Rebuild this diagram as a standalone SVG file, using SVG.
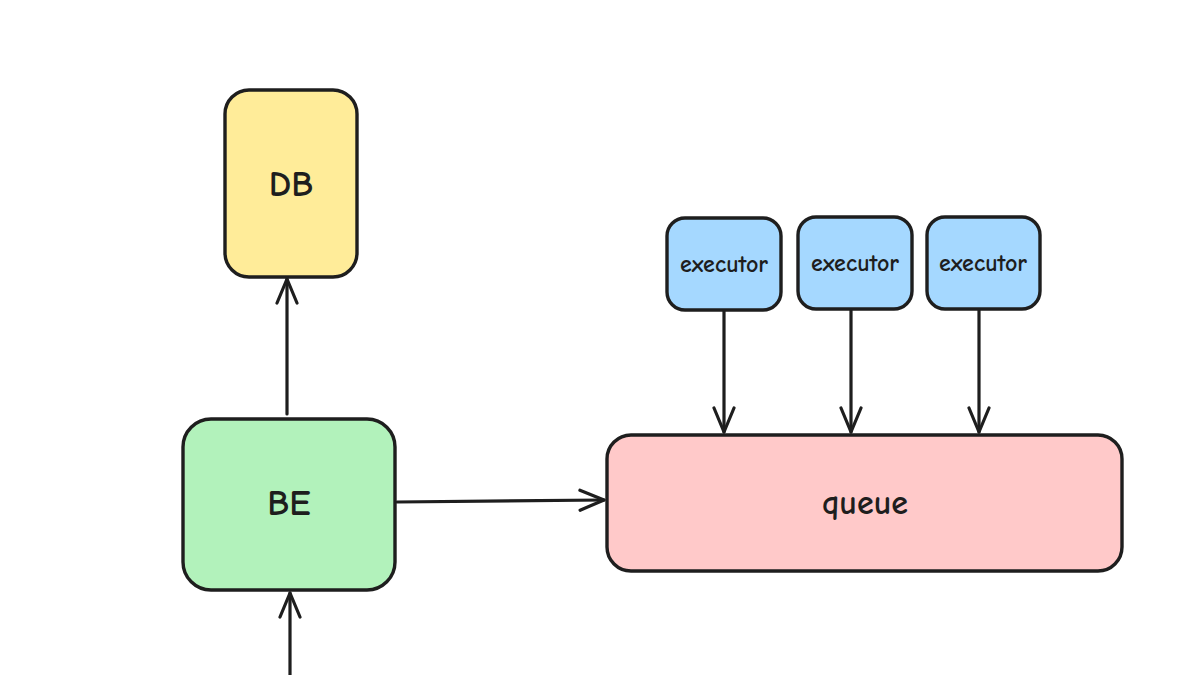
<svg xmlns="http://www.w3.org/2000/svg" width="1200" height="675" viewBox="0 0 1200 675">
<defs>
<marker id="ah" markerUnits="userSpaceOnUse" markerWidth="32" markerHeight="28" refX="26" refY="12" orient="auto" viewBox="0 0 32 24">
<path d="M2,2 L26,12 L2,22" fill="none" stroke="#1e1e1e" stroke-width="3.2" stroke-linecap="round" stroke-linejoin="round"/>
</marker>
</defs>
<style>
.box{stroke:#1e1e1e;stroke-width:3.4}
.lbl{font-family:"Comic Neue","Liberation Sans","DejaVu Sans",sans-serif;font-weight:bold;fill:#1e1e1e;text-anchor:middle;dominant-baseline:central}
.conn{stroke:#1e1e1e;stroke-width:3.2;fill:none;stroke-linecap:round;marker-end:url(#ah)}
</style>
<rect width="1200" height="675" fill="#ffffff"/>
<g id="connectors">
<path class="conn" d="M287,414 L287,279"/>
<path class="conn" d="M290,675 L290,593"/>
<path class="conn" d="M397,502 L604,500"/>
<path class="conn" d="M724,311 L724,432"/>
<path class="conn" d="M851,310 L851,432"/>
<path class="conn" d="M979,310 L979,432"/>
</g>
<g id="db">
<rect class="box" x="225" y="90" width="132" height="187" rx="24" fill="#ffec99"/>
<text class="lbl" x="291" y="184" font-size="36">DB</text>
</g>
<g id="be">
<rect class="box" x="183" y="419" width="212" height="171" rx="28" fill="#b2f2bb"/>
<text class="lbl" x="289" y="503" font-size="36">BE</text>
</g>
<g id="executor1">
<rect class="box" x="667" y="218" width="114" height="92" rx="18" fill="#a5d8ff"/>
<text class="lbl" x="724" y="264" font-size="24">executor</text>
</g>
<g id="executor2">
<rect class="box" x="798" y="217" width="114" height="92" rx="18" fill="#a5d8ff"/>
<text class="lbl" x="855" y="263" font-size="24">executor</text>
</g>
<g id="executor3">
<rect class="box" x="927" y="217" width="113" height="92" rx="18" fill="#a5d8ff"/>
<text class="lbl" x="983" y="263" font-size="24">executor</text>
</g>
<g id="queue">
<rect class="box" x="607" y="435" width="515" height="136" rx="24" fill="#ffc9c9"/>
<text class="lbl" x="865" y="503" font-size="34">queue</text>
</g>
</svg>
